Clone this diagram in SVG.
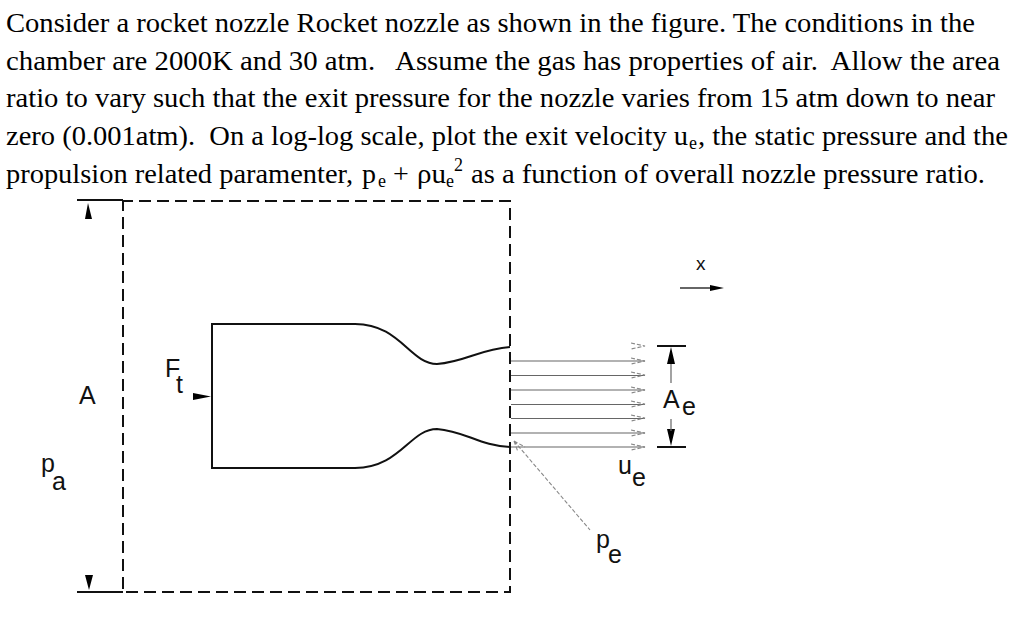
<svg xmlns="http://www.w3.org/2000/svg" width="1024" height="637" viewBox="0 0 1024 637">
<defs>
<style>
.t{font-family:"Liberation Serif",serif;font-size:28px;fill:#000}
.s{font-family:"Liberation Serif",serif;font-size:18px;fill:#000}
.l{font-family:"Liberation Sans",sans-serif;font-size:25px;fill:#111}
.n{fill:none;stroke:#111;stroke-width:2}
.d{fill:none;stroke:#111;stroke-width:2;stroke-dasharray:12 6}
.f{stroke:#666;stroke-width:1.2;fill:none}
.h{stroke:#888;stroke-width:1.1;stroke-dasharray:4 2;fill:none}
.a{fill:#000}
</style>
</defs>
<rect width="1024" height="637" fill="#fff"/>
<g id="problem-text">
<text class="t" x="6" y="32" textLength="969" lengthAdjust="spacingAndGlyphs">Consider a rocket nozzle Rocket nozzle as shown in the figure. The conditions in the</text>
<text class="t" x="6" y="70" textLength="994" lengthAdjust="spacingAndGlyphs" xml:space="preserve">chamber are 2000K and 30 atm.   Assume the gas has properties of air.  Allow the area</text>
<text class="t" x="6" y="107" textLength="989" lengthAdjust="spacingAndGlyphs">ratio to vary such that the exit pressure for the nozzle varies from 15 atm down to near</text>
<text class="t" x="6" y="145" textLength="682" lengthAdjust="spacingAndGlyphs" xml:space="preserve">zero (0.001atm).  On a log-log scale, plot the exit velocity u</text>
<text class="s" x="689" y="149">e</text>
<text class="t" x="698" y="145" textLength="310" lengthAdjust="spacingAndGlyphs">, the static pressure and the</text>
<text class="t" x="6" y="183" textLength="347" lengthAdjust="spacingAndGlyphs">propulsion related paramenter,</text>
<text class="t" x="362" y="183">p</text>
<text class="s" x="378" y="187">e</text>
<text class="t" x="393" y="183">+</text>
<text class="t" x="417" y="183" textLength="29" lengthAdjust="spacingAndGlyphs">ρu</text>
<text class="s" x="446" y="187">e</text>
<text class="s" x="454" y="171" font-size="21">2</text>
<text class="t" x="471" y="183" textLength="514" lengthAdjust="spacingAndGlyphs">as a function of overall nozzle pressure ratio.</text>
</g>
<g id="control-volume">
<path class="d" d="M123 203V201H510V592H123V203"/>
</g>
<g id="nozzle">
<path class="n" d="M510 347C480 349 465 362 437 364C410 364 400 324 355 324H212V468H355C400 468 410 429 437 429C465 431 480 446 510 447"/>
</g>
<g id="connectors">
<path class="n" d="M77 200H123M77 592H123M657 346H686M657 447H686"/>
<path class="a" d="M88 203L92 219H85ZM89 590L85 575H93ZM211 396.500L193 393V400ZM671 347L667 364H675ZM671 446L667 429H675Z"/>
<path class="f" d="M671 364V383M671 419V431"/>
<path class="f" d="M511 361H645M511 375.500H645M511 390H645M511 404.500H645M511 418.500H645M511 433H645M511 447H645"/>
<path class="h" d="M631 343L645 346L631 349M631 358L645 361L631 364M631 372L645 375L631 378M631 387L645 390L631 393M631 401L645 404L631 407M631 415L645 418L631 421M631 430L645 433L631 436M631 444L645 447L631 450"/>
<path class="h" d="M514 441L590 530M514 441L518 452M514 441L525 447"/>
<path fill="none" stroke="#333" stroke-width="1.5" d="M680 288H712"/>
<path class="a" d="M724 288L710 285V291Z"/>
</g>
<g id="labels">
<text class="l" x="79" y="404">A</text>
<text class="l" x="165" y="377">F</text>
<text class="l" x="176" y="393">t</text>
<text class="l" x="41" y="472">p</text>
<text class="l" x="52" y="490">a</text>
<text class="l" x="663" y="408">A</text>
<text class="l" x="682" y="415">e</text>
<text class="l" x="618" y="474">u</text>
<text class="l" x="632" y="486">e</text>
<text class="l" x="596" y="548">p</text>
<text class="l" x="608" y="563">e</text>
<text class="l" x="696" y="270" style="font-size:19px">x</text>
</g>
</svg>
